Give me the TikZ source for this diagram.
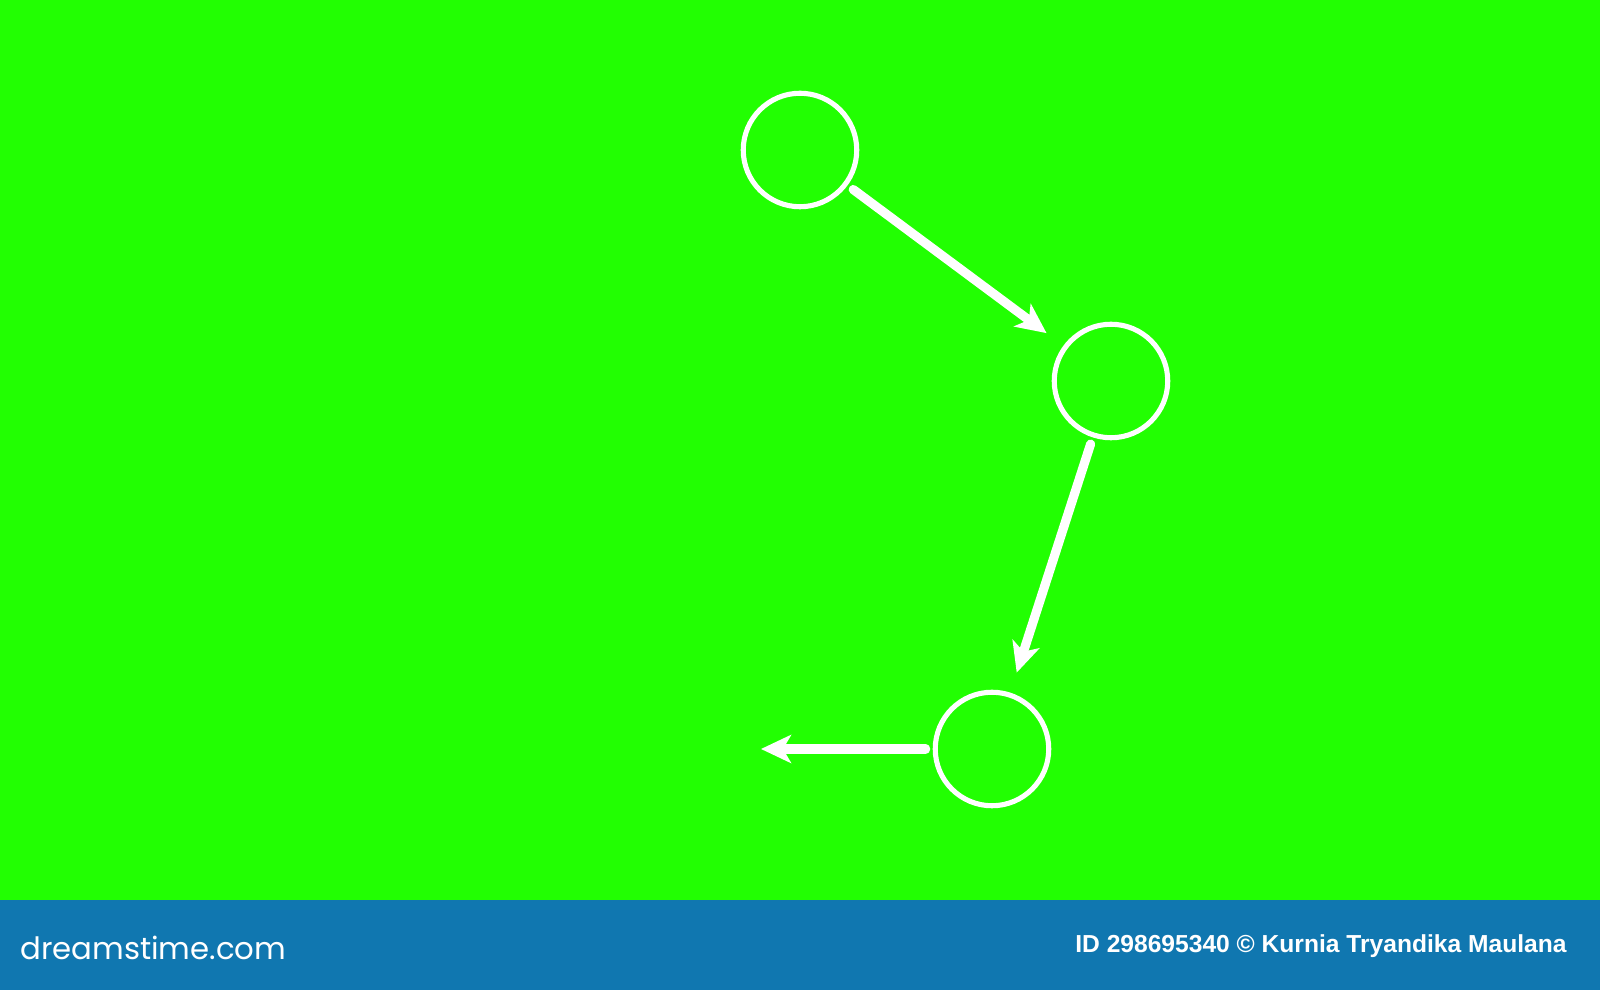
\documentclass[tikz,border=0pt]{standalone}
\usepackage{fontspec}
\setmainfont{Liberation Sans}
\newfontfamily\logofont{Poppins}
\usetikzlibrary{arrows.meta}
\definecolor{screengreen}{HTML}{22FF02}
\definecolor{barblue}{HTML}{1077B0}
\begin{document}
\begin{tikzpicture}[
    ring/.style = {circle, draw=white, line width=2.9pt, minimum size=2.27cm, inner sep=0pt},
    link/.style = {white, line width=5.2pt, line cap=round,
      -{Stealth[length=0.6cm, width=0.56cm, inset=0.16cm]},
      shorten <=0.14cm, shorten >=0.42cm}
  ]
  \useasboundingbox (0,0) rectangle (32,19.8);
  \fill[screengreen] (0,1.8) rectangle (32,19.8);
  \fill[barblue] (0,0) rectangle (32,1.8);
  % the three rings
  \node[ring] (top) at (16,16.8) {};
  \node[ring] (right) at (22.22,12.18) {};
  \node[ring] (bottom) at (19.84,4.82) {};
  \coordinate (exit) at (15.22,4.82);
  % links
  \draw[link] (top) -- (right);
  \draw[link] (right) -- (bottom);
  \draw[link, shorten >=0pt] (bottom) -- (exit);
  % footer bar
  \node[anchor=base west, inner sep=0pt, white, font=\logofont\fontsize{17.5}{17.5}\selectfont] (logo) at (0.4,0.6) {dreamstime.com};
  \node[anchor=base west, inner sep=0pt, white, font=\bfseries\fontsize{14}{14}\selectfont] (credit) at (21.5,0.74) {ID 298695340 © Kurnia Tryandika Maulana};
\end{tikzpicture}
\end{document}
